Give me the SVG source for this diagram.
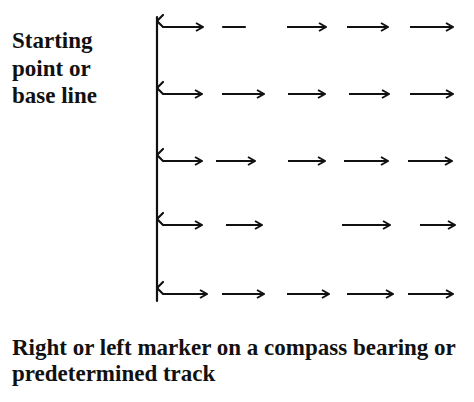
<svg xmlns="http://www.w3.org/2000/svg" width="474" height="402" viewBox="0 0 474 402">
<defs>
<marker id="chev" viewBox="0 0 10 10" refX="9" refY="5" markerWidth="10" markerHeight="10" markerUnits="userSpaceOnUse" orient="auto">
<path d="M2,1 L9,5 L2,9" fill="none" stroke="#111" stroke-width="2"/>
</marker>
</defs>
<style>
.ln{stroke:#111;stroke-width:2.2;fill:none;stroke-linecap:round}
.ar{stroke:#111;stroke-width:2.2;fill:none;marker-end:url(#chev)}
</style>
<rect width="474" height="402" fill="#fff"/>
<g id="label-start" font-family="'Liberation Serif', 'DejaVu Serif', serif" font-weight="bold" font-size="23" fill="#111">
<text x="12" y="48">Starting</text>
<text x="12" y="76">point or</text>
<text x="12" y="103">base line</text>
</g>
<g id="baseline">
<line class="ln" x1="157" y1="17" x2="157" y2="301"/>
<path class="ln" d="M157,21 L163,15 M157,88 L163,82 M157,155 L163,149 M157,219 L163,213 M157,288 L163,282"/>
</g>
<g id="connectors">
<path class="ar" d="M157,21 L163,27 L203,27"/>
<line class="ln" x1="223" y1="27" x2="245" y2="27"/>
<line class="ar" x1="287" y1="27" x2="326" y2="27"/>
<line class="ar" x1="347" y1="27" x2="388" y2="27"/>
<line class="ar" x1="410" y1="27" x2="453" y2="27"/>

<path class="ar" d="M157,88 L163,94 L202,94"/>
<line class="ar" x1="222" y1="94" x2="264" y2="94"/>
<line class="ar" x1="288" y1="94" x2="325" y2="94"/>
<line class="ar" x1="349" y1="94" x2="389" y2="94"/>
<line class="ar" x1="410" y1="94" x2="453" y2="94"/>

<path class="ar" d="M157,155 L163,161 L202,161"/>
<line class="ar" x1="216" y1="161" x2="255" y2="161"/>
<line class="ar" x1="288" y1="161" x2="325" y2="161"/>
<line class="ar" x1="344" y1="161" x2="388" y2="161"/>
<line class="ar" x1="408" y1="161" x2="452" y2="161"/>

<path class="ar" d="M157,219 L163,225 L202,225"/>
<line class="ar" x1="226" y1="225" x2="262" y2="225"/>
<line class="ar" x1="342" y1="225" x2="390" y2="225"/>
<line class="ar" x1="420" y1="225" x2="455" y2="225"/>

<path class="ar" d="M157,288 L163,294 L207,294"/>
<line class="ar" x1="222" y1="294" x2="264" y2="294"/>
<line class="ar" x1="287" y1="294" x2="329" y2="294"/>
<line class="ar" x1="347" y1="294" x2="393" y2="294"/>
<line class="ar" x1="408" y1="294" x2="453" y2="294"/>
</g>
<g id="caption" font-family="'Liberation Serif', 'DejaVu Serif', serif" font-weight="bold" font-size="23" fill="#111">
<text x="12" y="355">Right or left marker on a compass bearing or</text>
<text x="12" y="381">predetermined track</text>
</g>
</svg>
